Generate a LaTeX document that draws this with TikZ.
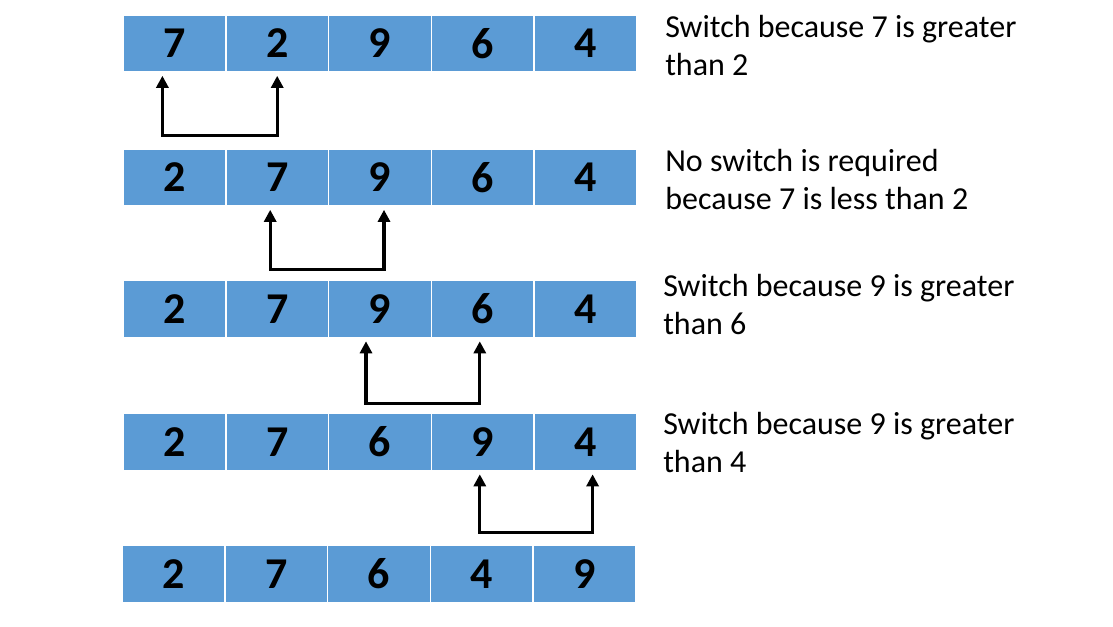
\documentclass[tikz,border=0pt]{standalone}
\usepackage{fontspec}
\setmainfont{Carlito}
\usetikzlibrary{arrows.meta,calc}
\definecolor{cellblue}{RGB}{91,155,213}
\tikzset{
    cell/.style={draw=white,line width=1.2pt,fill=cellblue,minimum width=77.1pt,minimum height=42.75pt,inner sep=0pt,font=\fontsize{33}{34}\selectfont\bfseries},
    note/.style={anchor=west,align=left,inner sep=0pt,font=\fontsize{24}{28.5}\selectfont},
    swap/.style={line width=2.4pt,{Triangle[length=9pt,width=9pt]}-{Triangle[length=9pt,width=9pt]}}
}

\begin{document}
\begin{tikzpicture}[x=0.75pt,y=-0.75pt]
            \useasboundingbox (0,0) rectangle (1113,626);
            % row 1
            \node[cell] (a1) at (174.4,43.5) {7};
            \node[cell] (a2) at (277.2,43.5) {2};
            \node[cell] (a3) at (380,43.5) {9};
            \node[cell] (a4) at (482.8,43.5) {6};
            \node[cell] (a5) at (585.6,43.5) {4};
            \node[note] (na) at (665,46) {Switch because 7 is greater\\than 2};
            % row 2
            \node[cell] (b1) at (174.4,177.5) {2};
            \node[cell] (b2) at (277.2,177.5) {7};
            \node[cell] (b3) at (380,177.5) {9};
            \node[cell] (b4) at (482.8,177.5) {6};
            \node[cell] (b5) at (585.6,177.5) {4};
            \node[note] (nb) at (665,179) {No switch is required\\because 7 is less than 2};
            % row 3
            \node[cell] (c1) at (174.4,309) {2};
            \node[cell] (c2) at (277.2,309) {7};
            \node[cell] (c3) at (380,309) {9};
            \node[cell] (c4) at (482.8,309) {6};
            \node[cell] (c5) at (585.6,309) {4};
            \node[note] (nc) at (663,304) {Switch because 9 is greater\\than 6};
            % row 4
            \node[cell] (d1) at (174.4,442) {2};
            \node[cell] (d2) at (277.2,442) {7};
            \node[cell] (d3) at (380,442) {6};
            \node[cell] (d4) at (482.8,442) {9};
            \node[cell] (d5) at (585.6,442) {4};
            \node[note] (nd) at (663,442) {Switch because 9 is greater\\than 4};
            % row 5
            \node[cell] (e1) at (173.4,574) {2};
            \node[cell] (e2) at (276.2,574) {7};
            \node[cell] (e3) at (379,574) {6};
            \node[cell] (e4) at (481.8,574) {4};
            \node[cell] (e5) at (584.6,574) {9};

            % compared pairs
            \draw[swap] ($(a1.south)+(-12,3)$) -- ++(0,60) -| ($(a2.south)+(0,3)$);
            \draw[swap] ($(b2.south)+(-7,3)$) -- ++(0,60) -| ($(b3.south)+(4,3)$);
            \draw[swap] ($(c3.south)+(-14,3)$) -- ++(0,62) -| ($(c4.south)+(-3,3)$);
            \draw[swap] ($(d4.south)+(-3,3)$) -- ++(0,58) -| ($(d5.south)+(7,3)$);
\end{tikzpicture}
\end{document}
